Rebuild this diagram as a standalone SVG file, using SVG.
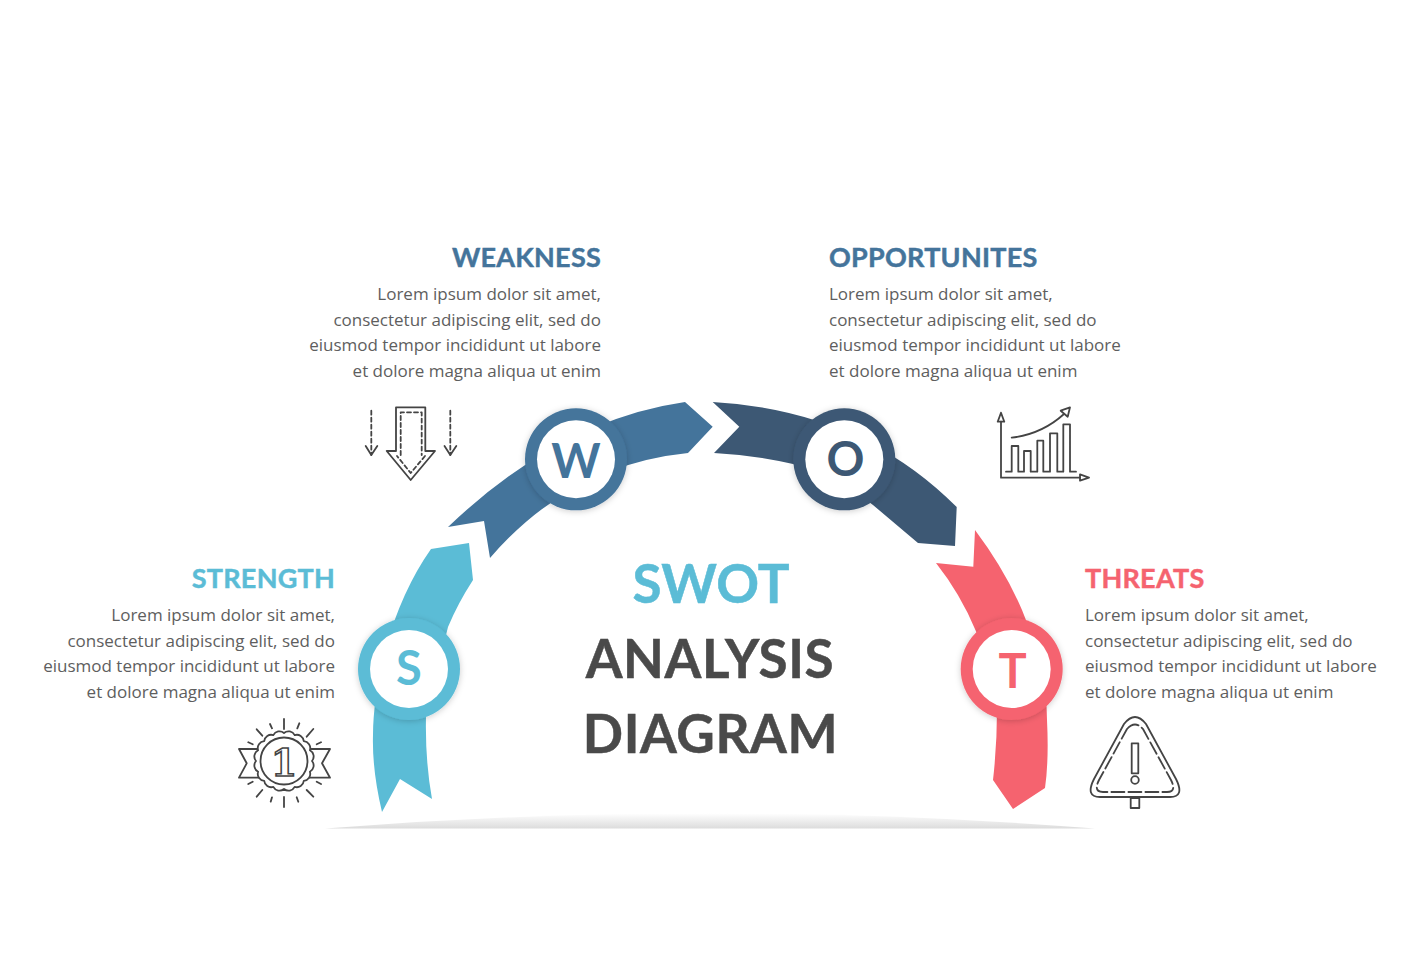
<svg xmlns="http://www.w3.org/2000/svg" width="1416" height="980" viewBox="0 0 1416 980">
<style>
.h{font-family:"Lato","Liberation Sans",sans-serif;font-weight:700;font-size:27px;letter-spacing:.25px;stroke:currentColor;stroke-width:.45px}
.b{font-family:"Open Sans","Noto Sans",sans-serif;font-size:17px;fill:#5e5e5e}
.c{font-family:"Lato","Liberation Sans",sans-serif;font-weight:700;font-size:53px;text-anchor:middle;fill:#4a4a4a;stroke:#4a4a4a;stroke-width:.5px;letter-spacing:.6px}
.l{font-family:"Lato","Liberation Sans",sans-serif;font-weight:700;font-size:47px;text-anchor:middle}
.i{fill:none;stroke:#444;stroke-width:1.8;stroke-linejoin:round;stroke-linecap:round}
.d{stroke-dasharray:4 3}
.r{text-anchor:end}
</style>
<defs>
<filter id="sh" x="-30%" y="-30%" width="160%" height="160%"><feDropShadow dx="0" dy="1" stdDeviation="3" flood-color="#000" flood-opacity=".2"/></filter>
<linearGradient id="g" x1="0" y1="0" x2="0" y2="1"><stop offset="0" stop-color="#fff"/><stop offset="1" stop-color="#dcdcdc"/></linearGradient>
</defs>
<rect width="1416" height="980" fill="#fff"/>
<path id="ground" d="M325,828.500 Q710,798 1095,828.500 Z" fill="url(#g)"/>
<g id="ribbons">
<path fill="#5bbcd6" d="M431,549 L469,543 L473,580 Q458,603 448,627 L426,716 Q425,760 432,799 L400,779 L382,812 Q372,770 373,735 Q373,700 385,650 Q402,590 431,549 Z"/>
<path fill="#44749b" d="M448,527 Q560,420 685,402 L712.700,426.700 L688,453 Q570,465 490,558 L484,521 Z"/>
<path fill="#3d5874" d="M712.700,402 Q860,410 956.700,507 L955,546 L918,543 L873,505 Q840,478 793,464 Q755,455 714,453 L739.300,426.700 Z"/>
<path fill="#f5636f" d="M975,530 Q1005,570 1022,610 Q1047,670 1047,720 Q1049,760 1045,788 L1013,809 L993,780 Q997,745 997,710 Q985,625 936,563 L973.300,566.700 Z"/>
</g>
<g id="node-s">
<circle cx="409" cy="669" r="51" fill="#5bbcd6" filter="url(#sh)"/><circle cx="409" cy="669" r="39" fill="#fff"/>
<text class="l" x="409" y="685" fill="#5bbcd6">S</text>
<text class="h r" x="335" y="588" fill="#5bbcd6" color="#5bbcd6">STRENGTH</text>
<text class="b r" x="335"><tspan x="335" y="621">Lorem ipsum dolor sit amet,</tspan><tspan x="335" y="647">consectetur adipiscing elit, sed do</tspan><tspan x="335" y="672">eiusmod tempor incididunt ut labore</tspan><tspan x="335" y="698">et dolore magna aliqua ut enim</tspan></text>
<g class="i">
<path d="M258.300,749 H239 L246.700,763.300 L239,777.700 H258.300 M309.700,749 H330 L322,763.300 L330,777.700 H309.700"/>
<path fill="#fff" style="fill:#fff" d="M312,761 A7 7 0 0 1 309.900,771.700 A7 7 0 0 1 303.800,780.800 A7 7 0 0 1 294.700,786.900 A7 7 0 0 1 284,789 A7 7 0 0 1 273.300,786.900 A7 7 0 0 1 264.200,780.800 A7 7 0 0 1 258.100,771.700 A7 7 0 0 1 256,761 A7 7 0 0 1 258.100,750.300 A7 7 0 0 1 264.200,741.200 A7 7 0 0 1 273.300,735.100 A7 7 0 0 1 284,733 A7 7 0 0 1 294.700,735.100 A7 7 0 0 1 303.800,741.200 A7 7 0 0 1 309.900,750.300 A7 7 0 0 1 312,761 Z"/>
<circle cx="284" cy="761" r="23.500"/>
<path d="M284,719V729M284,797V807M256.700,729.300L262.300,735.700M313.300,729L306.700,736.700M256.700,796.700L262.300,790M313.300,796.700L306.700,790M270,724L272,728.300M299.300,723.300L297.300,728.300M248.300,742.300L252.700,744.300M321,742.300L316.700,744.300M248.300,784L252.700,781.700M321,784L316.700,781.700M270.700,801.700L272,797.300M298.300,801.700L296.700,797.300"/>
</g>
<text x="284" y="776" text-anchor="middle" font-family="DejaVu Serif, serif" font-weight="700" font-size="38" fill="#fff" stroke="#444" stroke-width="1.600">1</text>
</g>
<g id="node-w">
<circle cx="576" cy="459.300" r="51" fill="#44749b" filter="url(#sh)"/><circle cx="576" cy="459.300" r="39" fill="#fff"/>
<text class="l" x="576" y="478" fill="#44749b">W</text>
<text class="h r" x="601" y="267" fill="#44749b" color="#44749b">WEAKNESS</text>
<text class="b r" x="601"><tspan x="601" y="300">Lorem ipsum dolor sit amet,</tspan><tspan x="601" y="326">consectetur adipiscing elit, sed do</tspan><tspan x="601" y="351">eiusmod tempor incididunt ut labore</tspan><tspan x="601" y="377">et dolore magna aliqua ut enim</tspan></text>
<g class="i">
<path d="M396,451 V407.300 H425.300 V451 H435 L410.700,480 L386.700,451 Z"/>
<path class="d" d="M400.700,455 V412.300 H421.700 V455 M425,456 L410.700,473 L397,456"/>
<path class="d" d="M371.300,410.700 V455 M450.300,410.700 V455"/>
<path d="M365.700,446 L371.300,455 L377.300,446 M444.500,446 L450.300,455 L456.300,446"/>
</g>
</g>
<g id="node-o">
<circle cx="844.300" cy="459.300" r="51" fill="#3d5874" filter="url(#sh)"/><circle cx="844.300" cy="459.300" r="39" fill="#fff"/>
<text class="l" x="845.500" y="476" fill="#3d5874">O</text>
<text class="h" x="829" y="267" fill="#44749b" color="#44749b">OPPORTUNITES</text>
<text class="b" x="829"><tspan x="829" y="300">Lorem ipsum dolor sit amet,</tspan><tspan x="829" y="326">consectetur adipiscing elit, sed do</tspan><tspan x="829" y="351">eiusmod tempor incididunt ut labore</tspan><tspan x="829" y="377">et dolore magna aliqua ut enim</tspan></text>
<g class="i">
<path d="M1001,421.700 V477.700 H1080"/>
<path d="M1001,412.700 L997.700,421.700 H1004.300 Z M1080,474.300 L1089,477.700 L1080,480.700 Z"/>
<path d="M1006,471.700 H1011.700 V446 H1018.300 V471.700 H1024 V451 H1030.700 V471.700 H1037.300 V440.700 H1043.300 V471.700 H1050 V433.300 H1057.300 V471.700 H1063.300 V424.300 H1070 V471.700 H1076"/>
<path d="M1011.700,437.700 Q1042,434 1064,414"/>
<path d="M1070,407.300 L1060.700,410.700 L1067.700,416.700 Z"/>
</g>
</g>
<g id="node-t">
<circle cx="1011.700" cy="669" r="51" fill="#f5636f" filter="url(#sh)"/><circle cx="1011.700" cy="669" r="39" fill="#fff"/>
<text class="l" x="1012.500" y="688" fill="#f5636f">T</text>
<text class="h" x="1085" y="588" fill="#f5636f" color="#f5636f">THREATS</text>
<text class="b" x="1085"><tspan x="1085" y="621">Lorem ipsum dolor sit amet,</tspan><tspan x="1085" y="647">consectetur adipiscing elit, sed do</tspan><tspan x="1085" y="672">eiusmod tempor incididunt ut labore</tspan><tspan x="1085" y="698">et dolore magna aliqua ut enim</tspan></text>
<g class="i">
<path d="M1124,724 Q1135,710 1146,724 L1176,779 Q1185,797 1170,797 H1100 Q1085,797 1094,779 Z"/>
<path style="stroke-dasharray:13 4" d="M1127,729 Q1135,720 1143,729 L1171,780 Q1177,792 1167,792 H1103 Q1093,792 1099,780 Z"/>
<rect x="1131.700" y="743.300" width="6.600" height="30"/>
<circle cx="1135" cy="780" r="3.800"/>
<rect x="1130.700" y="798" width="8.600" height="10"/>
</g>
</g>
<g id="center">
<text class="c" x="711" y="603" style="fill:#5bbcd6;stroke:#5bbcd6;letter-spacing:0">SWOT</text>
<text class="c" x="710" y="678">ANALYSIS</text>
<text class="c" x="710.500" y="753">DIAGRAM</text>
</g>
<g id="connectors"/>
</svg>
